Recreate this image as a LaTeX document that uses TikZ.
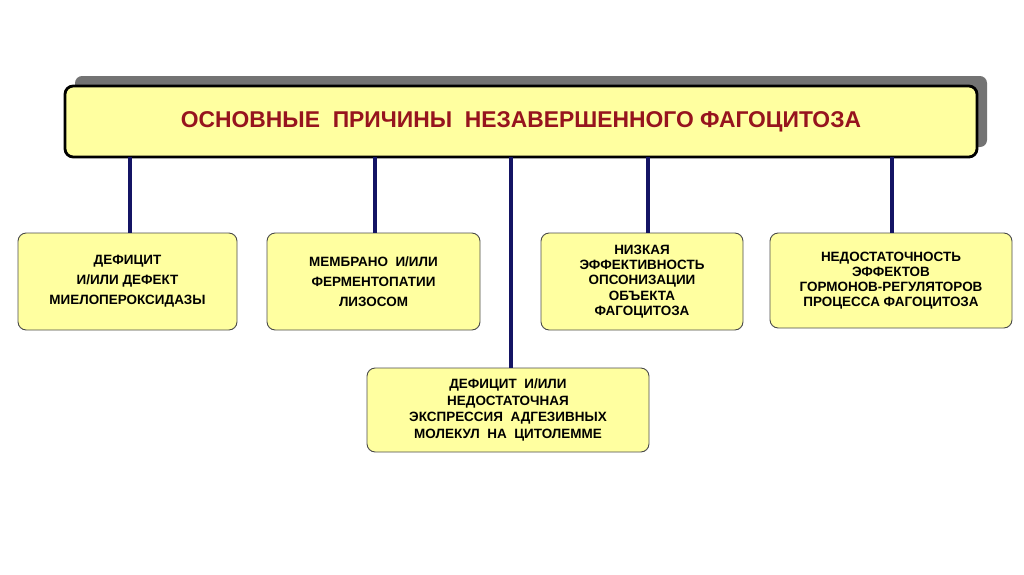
\documentclass[tikz,border=0pt]{standalone}
\usepackage{fontspec}
\setmainfont{Liberation Sans}
\usetikzlibrary{positioning}
\definecolor{boxfill}{RGB}{255,255,160}
\definecolor{linkblue}{RGB}{20,20,100}
\definecolor{titlered}{RGB}{150,20,30}

\begin{document}
\begin{tikzpicture}[x=0.03cm,y=-0.03cm,
                    semithick]
  \tikzset{cause/.style={draw=black!70,thick,fill=boxfill,rounded corners=7pt,
      font=\bfseries\fontsize{11.5}{17}\selectfont,align=center,inner sep=0pt},
    link/.style={linkblue,line width=3pt}}
  \useasboundingbox (0,0) rectangle (1024,574);
  % shadow and title
  \fill[black!55,rounded corners=6pt] (75,76) rectangle (987,147);
  \node[draw=black,line width=2.4pt,fill=boxfill,rounded corners=7pt,
        minimum width=912*0.03cm,minimum height=71*0.03cm,
        font=\bfseries\fontsize{19.5}{22}\selectfont,text=titlered]
        (TTL) at (521,121.5) {ОСНОВНЫЕ\ \ ПРИЧИНЫ\ \ НЕЗАВЕРШЕННОГО ФАГОЦИТОЗА};
  % causes
  \node[cause,minimum width=219*0.03cm,minimum height=97*0.03cm] (MPO) at (127.5,281.5)
  {ДЕФИЦИТ\\И/ИЛИ ДЕФЕКТ\\МИЕЛОПЕРОКСИДАЗЫ};
  \node[cause,minimum width=213*0.03cm,minimum height=97*0.03cm] (LYS) at (373.5,281.5)
  {МЕМБРАНО\ \ И/ИЛИ\\ФЕРМЕНТОПАТИИ\\ЛИЗОСОМ};
  \node[cause,minimum width=202*0.03cm,minimum height=97*0.03cm,
        font=\bfseries\fontsize{11.5}{13}\selectfont] (OPS) at (642,281.5)
  {НИЗКАЯ\\ЭФФЕКТИВНОСТЬ\\ОПСОНИЗАЦИИ\\ОБЪЕКТА\\ФАГОЦИТОЗА};
  \node[cause,minimum width=242*0.03cm,minimum height=95*0.03cm,
        font=\bfseries\fontsize{11.5}{13}\selectfont] (HRM) at (891,280.5)
  {НЕДОСТАТОЧНОСТЬ\\ЭФФЕКТОВ\\ГОРМОНОВ-РЕГУЛЯТОРОВ\\ПРОЦЕССА ФАГОЦИТОЗА};
  \node[cause,minimum width=282*0.03cm,minimum height=84*0.03cm,
        font=\bfseries\fontsize{11.5}{14}\selectfont] (ADH) at (508,410)
  {ДЕФИЦИТ\ \ И/ИЛИ\\НЕДОСТАТОЧНАЯ\\ЭКСПРЕССИЯ\ \ АДГЕЗИВНЫХ\\МОЛЕКУЛ\ \ НА\ \ ЦИТОЛЕММЕ};
  % links
  \draw[link] (130,157) -- (MPO.north -| 130,0);
  \draw[link] (375,157) -- (LYS.north -| 375,0);
  \draw[link] (511,157) -- (ADH.north -| 511,0);
  \draw[link] (648,157) -- (OPS.north -| 648,0);
  \draw[link] (892,157) -- (HRM.north -| 892,0);
\end{tikzpicture}
\end{document}
